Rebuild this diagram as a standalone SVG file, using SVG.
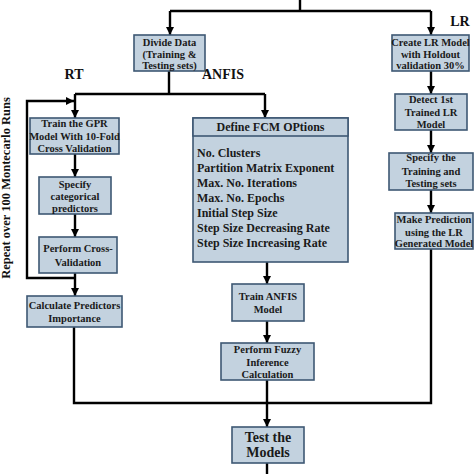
<svg xmlns="http://www.w3.org/2000/svg" width="474" height="474" viewBox="0 0 474 474">
<defs>
<marker id="ah" viewBox="0 0 10 10" refX="10" refY="5" markerWidth="3.4" markerHeight="3.4" orient="auto" markerUnits="strokeWidth">
<path d="M0,0 L10,5 L0,10 Z" fill="#000"/>
</marker>
</defs>
<style>
.box{fill:#c3d2df;stroke:#3e5873;stroke-width:1.6}
text{font-family:'Liberation Serif','DejaVu Serif','Times New Roman',serif;font-weight:bold}
.t{font-size:10.5px;fill:#1a1a1a;text-anchor:middle}
.big{font-size:14px}
.lbl{font-size:14px;fill:#111;text-anchor:middle}
.opt{font-size:12px;fill:#1a1a1a}
.c{fill:none;stroke:#000;stroke-width:2.4}
.a{marker-end:url(#ah)}
</style>
<rect width="474" height="474" fill="#fff"/>
<g id="connectors">
<path class="c" d="M300,0 V11 M170,11 H431"/>
<path class="c a" d="M170,11 V35"/>
<path class="c a" d="M431,11 V35"/>
<path class="c" d="M169,71 V94 M75,94 H265"/>
<path class="c a" d="M75,94 V118"/>
<path class="c a" d="M265,94 V118"/>
<path class="c a" d="M75,154 V177"/>
<path class="c a" d="M75,214 V237"/>
<path class="c a" d="M75,273 V296"/>
<path class="c a" d="M75,278 H27 V101 H74"/>
<path class="c" d="M74,327 V403 H431 V249"/>
<path class="c a" d="M431,71 V94"/>
<path class="c a" d="M431,130 V153"/>
<path class="c a" d="M431,190 V213"/>
<path class="c a" d="M267,262 V284"/>
<path class="c a" d="M267,321 V343"/>
<path class="c a" d="M267,380 V427"/>
<path class="c" d="M267,463 V474"/>
</g>
<g id="n_divide"><rect class="box" x="134" y="35" width="71" height="36"/>
<text class="t" x="169.5" y="46" font-family="Liberation Serif, serif">Divide Data</text><text class="t" x="169.5" y="57.5">(Training &amp;</text><text class="t" x="169.5" y="69">Testing sets)</text></g>
<g id="n_lr1"><rect class="box" x="392" y="35" width="77" height="36"/>
<text class="t" x="430.5" y="46">Create LR Model</text><text class="t" x="430.5" y="57.5">with  Holdout</text><text class="t" x="430.5" y="69">validation 30%</text></g>
<g id="n_gpr"><rect class="box" x="30" y="118" width="89" height="36"/>
<text class="t" x="74.5" y="127">Train the GPR</text><text class="t" x="74.5" y="139.5">Model With 10-Fold</text><text class="t" x="74.5" y="152">Cross Validation</text></g>
<g id="n_cat"><rect class="box" x="39" y="177" width="72" height="37"/>
<text class="t" x="75" y="188">Specify</text><text class="t" x="75" y="200">categorical</text><text class="t" x="75" y="212">predictors</text></g>
<g id="n_cv"><rect class="box" x="39" y="237" width="78" height="36"/>
<text class="t" x="78" y="252">Perform Cross-</text><text class="t" x="78" y="265.5">Validation</text></g>
<g id="n_calc"><rect class="box" x="27" y="296" width="95" height="31"/>
<text class="t" x="74.5" y="308.5">Calculate Predictors</text><text class="t" x="74.5" y="321.5">Importance</text></g>
<g id="n_fcm"><rect class="box" x="193" y="118" width="155" height="144"/>
<rect class="box" x="193" y="118" width="155" height="18"/>
<text class="t" x="270.5" y="131" style="font-size:12px">Define FCM OPtions</text>
<text class="opt" x="197" y="157">No. Clusters</text>
<text class="opt" x="197" y="172">Partition Matrix Exponent</text>
<text class="opt" x="197" y="187">Max. No. Iterations</text>
<text class="opt" x="197" y="202">Max. No. Epochs</text>
<text class="opt" x="197" y="217">Initial Step Size</text>
<text class="opt" x="197" y="232">Step Size Decreasing Rate</text>
<text class="opt" x="197" y="247">Step Size Increasing Rate</text></g>
<g id="n_anfis"><rect class="box" x="232" y="284" width="72" height="37"/>
<text class="t" x="268" y="300">Train ANFIS</text><text class="t" x="268" y="313">Model</text></g>
<g id="n_fuzzy"><rect class="box" x="221" y="343" width="93" height="37"/>
<text class="t" x="267.5" y="353">Perform Fuzzy</text><text class="t" x="267.5" y="366">Inference</text><text class="t" x="267.5" y="378">Calculation</text></g>
<g id="n_test"><rect class="box" x="232" y="427" width="72" height="36"/>
<text class="t big" x="268" y="442">Test the</text><text class="t big" x="268" y="457">Models</text></g>
<g id="n_detect"><rect class="box" x="395" y="94" width="72" height="36"/>
<text class="t" x="431" y="103">Detect 1st</text><text class="t" x="431" y="116">Trained LR</text><text class="t" x="431" y="128">Model</text></g>
<g id="n_spec"><rect class="box" x="389" y="153" width="84" height="37"/>
<text class="t" x="431" y="161">Specify the</text><text class="t" x="431" y="175">Training and</text><text class="t" x="431" y="187">Testing sets</text></g>
<g id="n_pred"><rect class="box" x="395" y="213" width="78" height="36"/>
<text class="t" x="434" y="223">Make Prediction</text><text class="t" x="434" y="236">using the LR</text><text class="t" x="434" y="247">Generated Model</text></g>
<g id="labels">
<text class="lbl" x="74" y="79">RT</text>
<text class="lbl" x="223" y="79">ANFIS</text>
<text class="lbl" x="460" y="26">LR</text>
<text class="lbl" transform="translate(10,188) rotate(-90)" style="font-size:12.5px">Repeat over 100 Montecarlo Runs</text>
</g>
</svg>
